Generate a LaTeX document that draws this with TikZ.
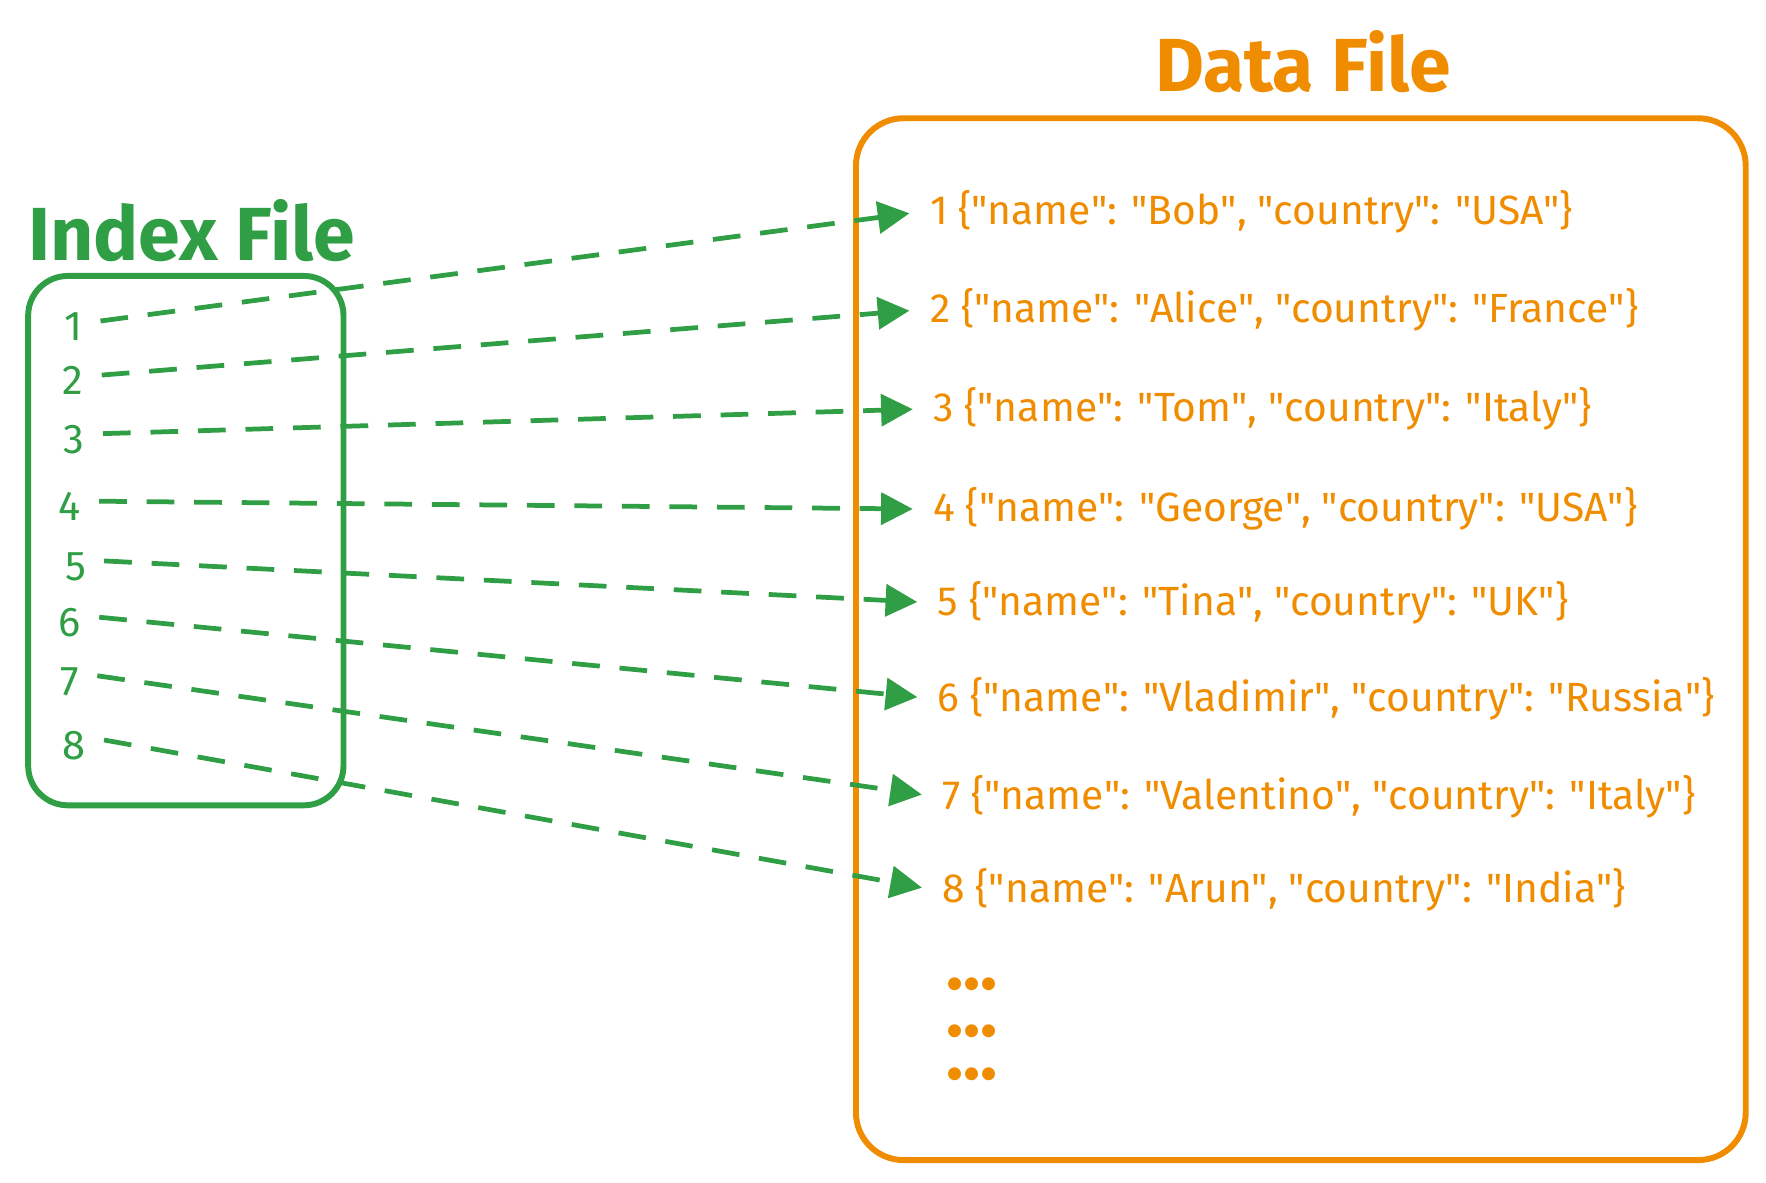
\documentclass[tikz,border=0pt]{standalone}
\usepackage{fontspec}
\setmainfont{Fira Sans}
\usetikzlibrary{arrows.meta}
\definecolor{gr}{HTML}{2F9E44}
\definecolor{og}{HTML}{F08C00}
\newcommand\qq{\textquotedbl}
\begin{document}
\begin{tikzpicture}[x=0.01cm,y=-0.01cm,
 num/.style={text=gr,font=\fontsize{10.5}{13}\selectfont,inner sep=1pt},
 rec/.style={text=og,font=\fontsize{10.3}{13}\selectfont,anchor=west,inner sep=2pt},
 arr/.style={gr,line width=1.2pt,dash pattern=on 7pt off 5pt,-{Triangle[length=8pt,width=8pt]},shorten >=3pt},
 ttl/.style={font=\fontsize{19}{22}\selectfont\bfseries}]
\useasboundingbox (0,0) rectangle (1568,1050);
\node[ttl,text=gr] (it) at (170,205) {Index File};
\node[ttl,text=og] (dt) at (1157,55) {Data File};
\draw[gr,line width=1.5pt,rounded corners=10pt] (25,245) rectangle (305,715);
\draw[og,line width=1.5pt,rounded corners=12pt] (760,105) rectangle (1550,1030);
\foreach \i/\x/\y in {1/65/290,2/65/338,3/66/390,4/62/450,5/67/503,6/62/553,7/62/605,8/66/662}
  \node[num] (n\i) at (\x,\y) {\i};
\node[rec] (d1) at (818,188) {1 \{\qq name\qq: \qq Bob\qq, \qq country\qq: \qq USA\qq\}};
\node[rec] (d2) at (818,275) {2 \{\qq name\qq: \qq Alice\qq, \qq country\qq: \qq France\qq\}};
\node[rec] (d3) at (821,363) {3 \{\qq name\qq: \qq Tom\qq, \qq country\qq: \qq Italy\qq\}};
\node[rec] (d4) at (821,452) {4 \{\qq name\qq: \qq George\qq, \qq country\qq: \qq USA\qq\}};
\node[rec] (d5) at (825,535) {5 \{\qq name\qq: \qq Tina\qq, \qq country\qq: \qq UK\qq\}};
\node[rec] (d6) at (825,620) {6 \{\qq name\qq: \qq Vladimir\qq, \qq country\qq: \qq Russia\qq\}};
\node[rec] (d7) at (829,707) {7 \{\qq name\qq: \qq Valentino\qq, \qq country\qq: \qq Italy\qq\}};
\node[rec] (d8) at (829,790) {8 \{\qq name\qq: \qq Arun\qq, \qq country\qq: \qq India\qq\}};
\foreach \i in {1,...,8} \draw[arr] (n\i.east) ++(12,-5) -- (d\i.west);
\foreach \y/\n in {875/a,917/b,955/c}
  \node[text=og,font=\fontsize{18}{18}\selectfont\bfseries,inner sep=0pt,text height=2pt,text depth=0pt] (dots\n) at (863,\y) {...};
\end{tikzpicture}
\end{document}
